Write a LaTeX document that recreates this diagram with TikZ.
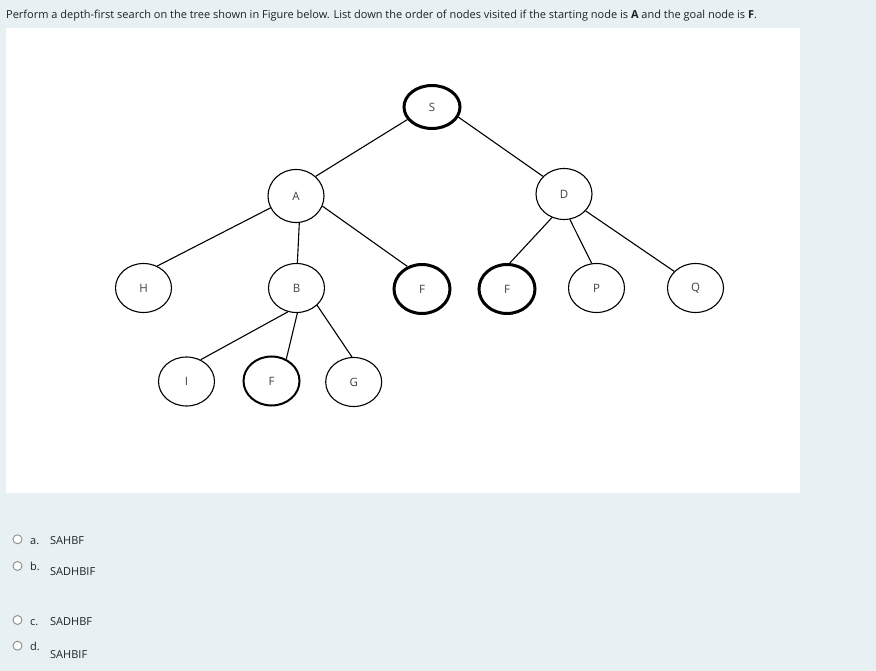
\documentclass[tikz,border=0pt]{standalone}
\usepackage{fontspec}
\setmainfont{Open Sans}
\usetikzlibrary{shapes.geometric}
\definecolor{pagebg}{HTML}{E7F1F4}
\definecolor{radiogray}{HTML}{8C8C8C}
\definecolor{inktext}{HTML}{1D2125}
\tikzset{
	vertex/.style={draw, ellipse, line width=1.1pt, minimum width=56pt, minimum height=49pt, inner sep=0pt, text=black!75, font=\fontsize{11.5}{13}\selectfont},
	visited/.style={vertex, line width=3pt},
	radio/.style={draw=radiogray, fill=white, line width=0.9pt, circle, minimum size=9pt, inner sep=0pt},
	choice/.style={anchor=base west, inner sep=0pt, text=inktext, font=\fontsize{11}{13}\selectfont}
}

\begin{document}
\begin{tikzpicture}[x=1pt, y=-1pt]
			%%%%% START %%%%%
			
			\fill[pagebg] (0, 0) rectangle (876, 671);
			\fill[white] (6, 28) rectangle (800, 493);
			
			\node[choice] (question) at (6, 18.3) {Perform a depth-first search on the tree shown in Figure below. List down the order of nodes visited if the starting node is \textbf{A} and the goal node is \textbf{F}.};
			
			\node[visited, minimum height=43pt] (S) at (432, 107) {S};
			
			\node[vertex, minimum height=53pt] (A) at (296, 196) {A};
			\node[vertex, minimum height=51pt] (D) at (564, 194) {D};
			
			\node[vertex] (H) at (143.5, 288) {H};
			\node[vertex] (B) at (296.5, 288) {B};
			\node[visited] (F1) at (422, 289) {F};
			\node[visited] (F2) at (507, 289) {F};
			\node[vertex] (P) at (596.5, 288) {P};
			\node[vertex] (Q) at (695.5, 288) {Q};
			
			\node[vertex] (I) at (186.5, 381.5) {I};
			\node[vertex, line width=2pt] (F3) at (271.5, 381) {F};
			\node[vertex] (G) at (353.7, 382) {G};
			
			\draw[line width=1.1pt] (S.207) -- (A.45);
			\draw[line width=1.1pt] (S.339) -- (D.140);
			\draw[line width=1.1pt] (A.205) -- (H.58);
			\draw[line width=1.1pt] (A.277) -- (B.88);
			\draw[line width=1.1pt] (A.339) -- (F1.123);
			\draw[line width=1.1pt] (D.243) -- (F2.84);
			\draw[line width=1.1pt] (D.283) -- (P.101);
			\draw[line width=1.1pt] (D.322) -- (Q.142);
			\draw[line width=1.1pt] (B.250) -- (I.57);
			\draw[line width=1.1pt] (B.272) -- (F3.56);
			\draw[line width=1.1pt] (B.320) -- (G.94);
			
			\node[radio] (ra) at (17.5, 539.3) {};
			\node[choice] (la) at (30, 544) {a.};
			\node[choice] (ta) at (50, 544.3) {SAHBF};
			
			\node[radio] (rb) at (17.5, 566) {};
			\node[choice] (lb) at (30, 570.7) {b.};
			\node[choice] (tb) at (50, 575.7) {SADHBIF};
			
			\node[radio] (rc) at (17.5, 620) {};
			\node[choice] (lc) at (30, 625) {c.};
			\node[choice] (tc) at (50, 625) {SADHBF};
			
			\node[radio] (rd) at (17.5, 645.7) {};
			\node[choice] (ld) at (30, 650.7) {d.};
			\node[choice] (td) at (50, 658) {SAHBIF};
			
			%%%%% END %%%%%
\end{tikzpicture}
\end{document}
